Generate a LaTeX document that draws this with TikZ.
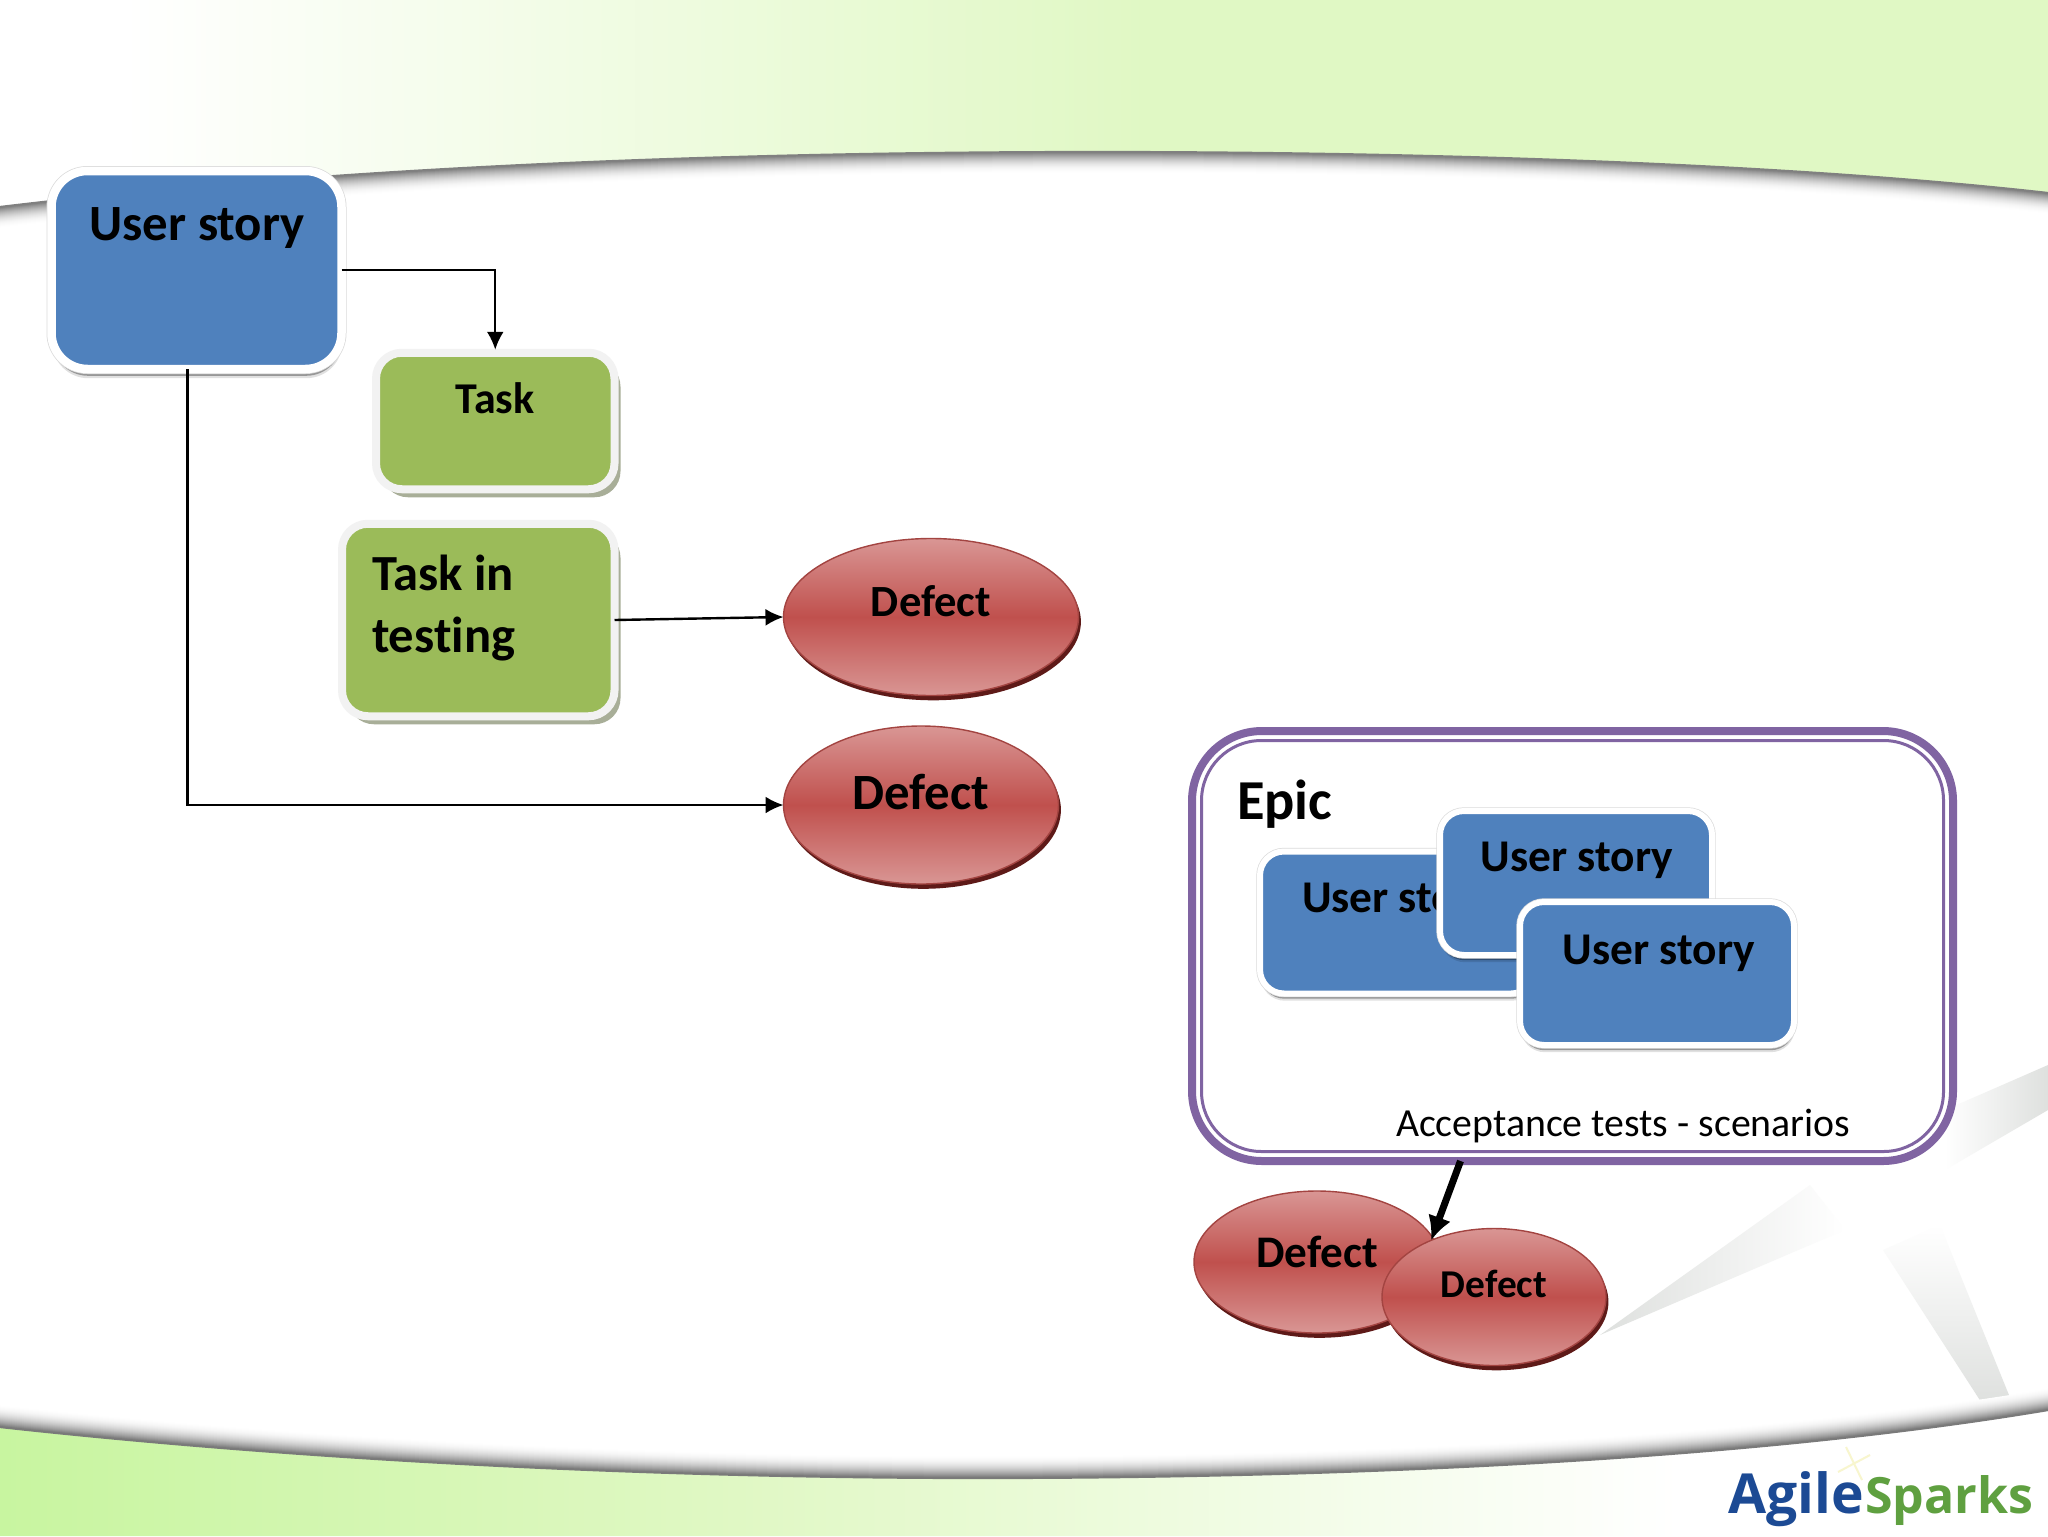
\documentclass[tikz,border=0pt]{standalone}
\usepackage{fontspec}
\setmainfont[Ligatures=CommonOff]{Carlito}
\newfontfamily\logofont{Open Sans}
\usetikzlibrary{arrows.meta,shapes.geometric,shadows}
\definecolor{bandg}{HTML}{E0F8C4}
\definecolor{bandd}{HTML}{C8F5A0}
\definecolor{usblue}{HTML}{4F81BD}
\definecolor{taskgreen}{HTML}{9BBB59}
\definecolor{epicpurple}{HTML}{8064A2}
\definecolor{defmid}{HTML}{C0504D}
\definecolor{deflight}{HTML}{D99694}
\definecolor{defdark}{HTML}{5E1A18}
\definecolor{logoblue}{HTML}{1C4A94}
\definecolor{logogreen}{HTML}{5FA040}
\definecolor{greenshadow}{HTML}{A8AE98}
\definecolor{raygray}{HTML}{DEE0DE}
\pgfdeclarehorizontalshading{topband}{100bp}{color(0bp)=(white); color(28bp)=(white); color(53bp)=(bandg); color(100bp)=(bandg)}
\pgfdeclarehorizontalshading{botband}{100bp}{color(0bp)=(bandd); color(25bp)=(bandd); color(43bp)=(bandg); color(66bp)=(white); color(100bp)=(white)}
\tikzset{
  x=0.5pt,y=-0.5pt,
  boxbase/.style={rectangle,inner sep=0pt,outer sep=0pt},
  softshadow/.style n args={2}{drop shadow={shadow xshift=0.4pt,shadow yshift=-#2,fill=black,opacity=.12},drop shadow={shadow xshift=0.3pt,shadow yshift=-#1,fill=black,opacity=.32}},
  bigblue/.style={boxbase,fill=usblue,draw=white,line width=4.25pt,rounded corners=18pt,softshadow={3.4pt}{4.6pt},preaction={draw=black!14,line width=5pt}},
  bluebox/.style={boxbase,fill=usblue,draw=white,line width=3pt,rounded corners=12pt,softshadow={2.6pt}{3.6pt},preaction={draw=black!14,line width=3.7pt}},
  greenbox/.style={boxbase,fill=taskgreen,draw=black!5,line width=4pt,rounded corners=13pt,drop shadow={shadow xshift=3pt,shadow yshift=-4pt,fill=greenshadow,opacity=1}},
  defect/.style={ellipse,inner sep=0pt,outer sep=0pt,top color=deflight,bottom color=deflight,middle color=defmid,draw=defmid!85!black,line width=.7pt,drop shadow={shadow xshift=1.2pt,shadow yshift=-2.4pt,fill=defdark,opacity=1}},
  lbl/.style={anchor=base,inner sep=0pt,outer sep=0pt,text=black},
  lblw/.style={anchor=base west,inner sep=0pt,outer sep=0pt,text=black},
  conn/.style={draw=black,line width=1.2pt,-{Latex[length=9pt,width=8.5pt]}},
}
\begin{document}
\begin{tikzpicture}
\useasboundingbox (0,0) rectangle (2048,1536);
\fill[white] (0,0) rectangle (2048,1536);
% top band
\path[shading=topband] (0,207) .. controls (350,165) and (750,152) .. (1097,152) .. controls (1450,152) and (1800,165) .. (2048,193) -- (2048,0) -- (0,0) -- cycle;
\foreach \i in {20,19,...,0}{
  \pgfmathsetmacro\lev{50*(1-\i/21)*(1-\i/21)}
  \draw[line width=1.1pt,black!\lev!white,yshift=-\i*0.5pt] (0,207) .. controls (350,165) and (750,152) .. (1097,152) .. controls (1450,152) and (1800,165) .. (2048,193);
}
% rays
\path[left color=raygray,right color=white] (1600,1335) -- (1810,1185) -- (1845,1230) -- cycle;
\path[left color=white,right color=raygray] (1945,1110) -- (2048,1065) -- (2048,1110) -- (1945,1170) -- cycle;
\path[top color=white,bottom color=raygray] (1883,1250) -- (1940,1225) -- (2013,1405) -- (1983,1405) -- cycle;
% bottom band
\path[shading=botband] (0,1427) .. controls (300,1460) and (650,1478) .. (980,1478) .. controls (1350,1478) and (1750,1460) .. (2048,1410) -- (2048,1536) -- (0,1536) -- cycle;
\foreach \i in {20,19,...,0}{
  \pgfmathsetmacro\lev{46*(1-\i/21)*(1-\i/21)+6*(1-\i/21)}
  \draw[line width=1.1pt,black!\lev!white,yshift=\i*0.5pt] (0,1427) .. controls (300,1460) and (650,1478) .. (980,1478) .. controls (1350,1478) and (1750,1460) .. (2048,1410);
}
% logo
\draw[draw=black!15!yellow!20!white,line width=1pt] (1846,1447) -- (1862,1480) (1870,1455) -- (1838,1472);
\node[anchor=base west,inner sep=0pt,text=logoblue,font=\logofont\bfseries\fontsize{27.6}{27.6}\selectfont] (logoa) at (1728,1513) {Agile};
\node[anchor=base west,inner sep=0pt,text=logogreen,font=\logofont\bfseries\fontsize{25}{25}\selectfont] (logob) at (1865,1513) {Sparks};
% main user story
\node[bigblue,minimum width=145pt,minimum height=99pt] (us) at (196.5,270) {};
\node[lbl,font=\bfseries\fontsize{25.4}{25.4}\selectfont] (ustext) at (197,240) {User story};
% tasks
\node[greenbox,minimum width=119.25pt,minimum height=68.25pt] (task) at (495.25,421) {};
\node[lbl,font=\bfseries\fontsize{22}{22}\selectfont] (tasktext) at (495,413) {Task};
\node[greenbox,minimum width=136.25pt,minimum height=96.25pt] (tit) at (478.25,620) {};
\node[lblw,font=\bfseries\fontsize{25.3}{25.3}\selectfont] (tittext) at (372,590) {Task in};
\node[lblw,font=\bfseries\fontsize{25.3}{25.3}\selectfont] (tittextb) at (372,652) {testing};
% defects
\node[defect,minimum width=147.5pt,minimum height=78.5pt] (d1) at (931,617) {};
\node[lbl,font=\bfseries\fontsize{22.3}{22.3}\selectfont] (d1text) at (931,616) {Defect};
\node[defect,minimum width=137.5pt,minimum height=79pt] (d2) at (921,805) {};
\node[lbl,font=\bfseries\fontsize{25.4}{25.4}\selectfont] (d2text) at (921,809) {Defect};
% epic
\node[boxbase,fill=white,draw=epicpurple,line width=4pt,rounded corners=35pt,minimum width=380.5pt,minimum height=215pt] (epic) at (1572.5,946) {};
\node[boxbase,draw=epicpurple,line width=1.5pt,rounded corners=30pt,minimum width=371pt,minimum height=205.5pt] (epicin) at (1572.5,946) {};
\node[lblw,font=\bfseries\fontsize{28.2}{28.2}\selectfont] (epictext) at (1237,819) {Epic};
\node[lblw,font=\fontsize{19.9}{19.9}\selectfont] (acc) at (1396,1136) {Acceptance tests - scenarios};
% small stories
\node[bluebox,minimum width=137.5pt,minimum height=71pt] (s1) at (1397.5,922.5) {};
\node[lblw,font=\bfseries\fontsize{22.7}{22.7}\selectfont] (s1text) at (1302,912) {User story};
\node[bluebox,minimum width=136pt,minimum height=72pt] (s2) at (1576,883) {};
\node[lbl,font=\bfseries\fontsize{22.7}{22.7}\selectfont] (s2text) at (1577,871) {User story};
\node[bluebox,minimum width=137pt,minimum height=71.5pt] (s3) at (1657,973.5) {};
\node[lbl,font=\bfseries\fontsize{22.7}{22.7}\selectfont] (s3text) at (1659,964) {User story};
% lower defects
\node[defect,minimum width=123pt,minimum height=71pt] (d3) at (1317,1262) {};
\node[lbl,font=\bfseries\fontsize{22.6}{22.6}\selectfont] (d3text) at (1317,1267) {Defect};
\node[defect,minimum width=112pt,minimum height=68.5pt] (d4) at (1494,1297) {};
\node[lbl,font=\bfseries\fontsize{19.7}{19.7}\selectfont] (d4text) at (1494,1297) {Defect};
% connectors
\coordinate (usb) at ([xshift=-4.5pt]us.south);
\coordinate (epicb) at ([xshift=-56pt]epic.south);
\draw[conn,shorten >=1.5pt] (us.east) -| (task.north);
\draw[conn] (usb) |- (d2.west);
\draw[conn] (tit.east) -- (d1.west);
\draw[draw=black,line width=3.5pt,-{Latex[length=12pt,width=12pt]}] (epicb) -- (d4.138);
\end{tikzpicture}
\end{document}
